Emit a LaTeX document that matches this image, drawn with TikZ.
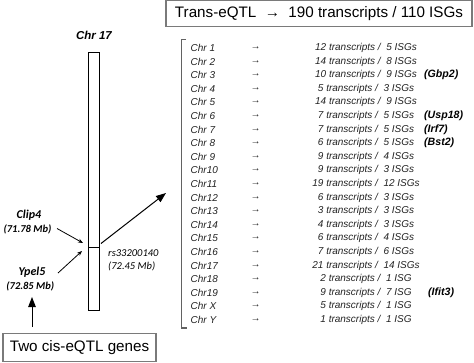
\documentclass[tikz,border=0pt]{standalone}
\usepackage{fontspec}
\setmainfont{Liberation Sans}
\newfontfamily\carlito{Carlito}
\usetikzlibrary{arrows.meta}
\definecolor{boxgray}{HTML}{7A7A7A}
\definecolor{txtgray}{HTML}{222222}
\begin{document}
\begin{tikzpicture}[x=1pt,y=-1pt,
  bigbox/.style={draw=boxgray, line width=1.4pt, inner sep=0pt, text=black, font=\fontsize{15.2}{18}\selectfont},
  listtxt/.style={inner sep=0pt, text=txtgray, font=\fontsize{10}{12}\selectfont\itshape},
  arrowtxt/.style={inner sep=0pt, text=txtgray, font=\fontsize{10}{12}\selectfont},
  genetxt/.style={inner sep=0pt, anchor=west, text=black, font=\fontsize{10.6}{12}\selectfont\bfseries\itshape},
  loclbl/.style={inner sep=0pt, text=black, font=\carlito\fontsize{10.5}{12}\selectfont\bfseries\itshape},
  genelbl/.style={inner sep=0pt, text=black, font=\carlito\fontsize{12}{14}\selectfont\bfseries\itshape},
  snplbl/.style={inner sep=0pt, anchor=west, text=black, font=\carlito\fontsize{10.5}{12}\selectfont\itshape},
  smallarr/.style={line width=0.8pt, -{Stealth[length=5pt,width=4pt]}},
  bigarr/.style={line width=1pt, -{Triangle[length=10pt,width=7.5pt]}}
]
\useasboundingbox (0,0) rectangle (474,362);

% title box
\node[bigbox, minimum width=306pt, minimum height=26pt] (trans) at (319,13.6)
  {Trans-eQTL~~→~~190 transcripts / 110 ISGs};

% chromosome
\node[font=\fontsize{11.5}{13}\selectfont\bfseries\itshape, inner sep=0pt] (chrlbl) at (94,35) {Chr 17};
\node[draw, line width=0.9pt, minimum width=11pt, minimum height=258pt, inner sep=0pt] (chr) at (93.5,181) {};
\coordinate (snpl) at (88,247);
\coordinate (snpr) at (99,247);
\draw[line width=0.9pt] (snpl) -- (snpr);

% cis genes
\node[genelbl] (clip) at (29,215) {Clip4};
\node[loclbl] (clipmb) at (27.5,229) {(71.78 Mb)};
\node[genelbl] (ypel) at (32,272) {Ypel5};
\node[loclbl] (ypelmb) at (30.3,286) {(72.85 Mb)};
\coordinate (clipstart) at (57,228.5);
\coordinate (clipend) at (83,243);
\coordinate (ypelstart) at (58,273);
\coordinate (ypelend) at (82,251);
\draw[smallarr] (clipstart) -- (clipend);
\draw[smallarr] (ypelstart) -- (ypelend);

% SNP label
\node[snplbl] (snp) at (108,253) {rs33200140};
\node[snplbl] (snpmb) at (108,266) {(72.45 Mb)};

% big arrow to trans list
\coordinate (bigstart) at (101,243.5);
\coordinate (bigend) at (166,193);
\draw[bigarr] (bigstart) -- (bigend);

% bottom box and arrow
\node[bigbox, minimum width=153pt, minimum height=28.5pt] (cis) at (79.5,347.5) {Two cis-eQTL genes};
\coordinate (upstart) at (32,327);
\coordinate (upend) at (32,297);
\draw[bigarr] (upstart) -- (upend);

% bracket
\coordinate (brtopr) at (186,39.5);
\coordinate (brtop) at (181.5,39.5);
\coordinate (brbot) at (181.5,328);
\coordinate (brbotr) at (187,328);
\draw[boxgray!80!black, line width=1.1pt] (brtopr) -- (brtop) -- (brbot) -- (brbotr);

% list
\foreach \lab/\t/\g/\gene [count=\i from 0] in {
  Chr 1/12/5 ISGs/,
  Chr 2/14/8 ISGs/,
  Chr 3/10/9 ISGs/(Gbp2),
  Chr 4/5/3 ISGs/,
  Chr 5/14/9 ISGs/,
  Chr 6/7/5 ISGs/(Usp18),
  Chr 7/7/5 ISGs/(Irf7),
  Chr 8/6/5 ISGs/(Bst2),
  Chr 9/9/4 ISGs/,
  Chr10/9/3 ISGs/,
  Chr11/19/12 ISGs/,
  Chr12/6/3 ISGs/,
  Chr13/3/3 ISGs/,
  Chr14/4/3 ISGs/,
  Chr15/6/4 ISGs/,
  Chr16/7/6 ISGs/,
  Chr17/21/14 ISGs/,
  Chr18/2/1 ISG/,
  Chr19/9/7 ISG/(Ifit3),
  Chr X/5/1 ISG/,
  Chr Y/1/1 ISG/}
{
  \pgfmathsetmacro{\yy}{48+13.6*\i}
  \node[listtxt, anchor=west] (c\i) at (190.5,\yy) {\lab};
  \node[arrowtxt] (a\i) at (255.5,\yy) {→};
  \node[listtxt] (n\i) at (366,\yy) {\t\ transcripts /\ \ \g};
  \ifx\gene\empty\else
    \ifnum\i=18
      \node[genetxt] (g\i) at (428,\yy) {\gene};
    \else
      \node[genetxt] (g\i) at (424,\yy) {\gene};
    \fi
  \fi
}
\end{tikzpicture}
\end{document}
